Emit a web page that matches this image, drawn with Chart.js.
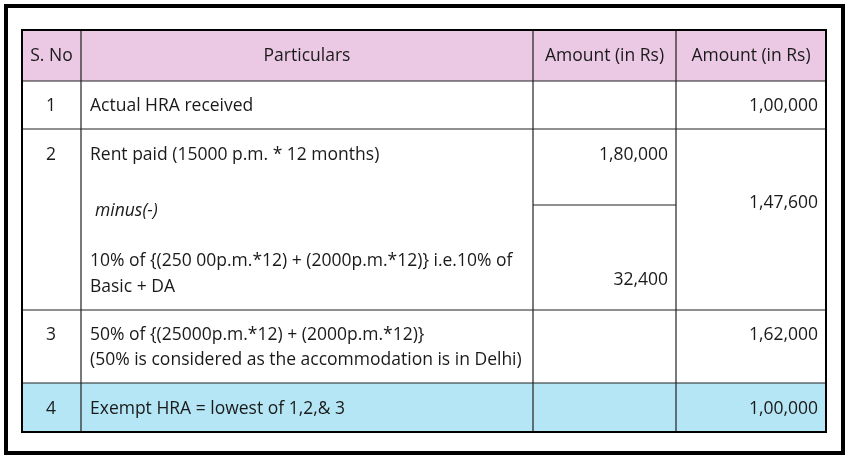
<!DOCTYPE html><html><head><meta charset="utf-8">
<script src="https://cdn.jsdelivr.net/npm/chart.js@4"></script>
<style>html,body{margin:0;padding:0;background:#fff}#w{width:850px;height:460px}</style></head><body><div id="w"><canvas id="c"></canvas></div>
<script>
const colEdges=[22,81,533,676,826];
const rowEdges=[30,81,129,310,383,432];
const headers=["S. No","Particulars","Amount (in Rs)","Amount (in Rs)"];
// text items: [text, x, y, align, italic]
const cellTexts=[
 ["1",51,106,"center"],["Actual HRA received",90,106,"left"],["1,00,000",818,106,"right"],
 ["2",51,155,"center"],["Rent paid (15000 p.m. * 12 months)",90,155,"left"],["1,80,000",668,155,"right"],
 ["minus(-)",95,211,"left",true],["1,47,600",818,203,"right"],
 ["10% of {(250 00p.m.*12) + (2000p.m.*12)} i.e.10% of",90,261,"left"],["Basic + DA",90,287,"left"],["32,400",668,280,"right"],
 ["3",51,335,"center"],["50% of {(25000p.m.*12) + (2000p.m.*12)}",90,335,"left"],["(50% is considered as the accommodation is in Delhi)",90,360,"left"],["1,62,000",818,335,"right"],
 ["4",51,409,"center"],["Exempt HRA = lowest of 1,2,& 3",90,409,"left"],["1,00,000",818,409,"right"]
];
const tablePlugin={id:'tbl',afterDraw(ch){
 const c=ch.ctx,X=v=>ch.scales.x.getPixelForValue(v),Y=v=>ch.scales.y.getPixelForValue(v);
 c.save();
 c.fillStyle='#fff';c.fillRect(X(0),Y(0),X(850)-X(0),Y(460)-Y(0));
 c.lineWidth=4;c.strokeStyle='#000';c.strokeRect(X(6),Y(6),X(843)-X(6),Y(453)-Y(6));
 c.fillStyle='#EBC8E4';c.fillRect(X(colEdges[0]),Y(rowEdges[0]),X(colEdges[4])-X(colEdges[0]),Y(rowEdges[1])-Y(rowEdges[0]));
 c.fillStyle='#B5E6F5';c.fillRect(X(colEdges[0]),Y(rowEdges[4]),X(colEdges[4])-X(colEdges[0]),Y(rowEdges[5])-Y(rowEdges[4]));
 c.strokeStyle='#222';c.lineWidth=1.2;c.beginPath();
 const ln=(a,b,d,e)=>{c.moveTo(X(a),Y(b));c.lineTo(X(d),Y(e));};
 rowEdges.forEach(r=>ln(colEdges[0],r,colEdges[4],r));
 colEdges.forEach(x=>ln(x,rowEdges[0],x,rowEdges[5]));
 ln(colEdges[2],205,colEdges[3],205);
 c.stroke();
 c.strokeStyle='#000';c.lineWidth=2;c.strokeRect(X(colEdges[0]),Y(rowEdges[0]),X(colEdges[4])-X(colEdges[0]),Y(rowEdges[5])-Y(rowEdges[0]));
 c.fillStyle='#1a1a1a';c.textBaseline='middle';
 c.font='17.5px "Open Sans"';c.textAlign='center';
 headers.forEach((h,i)=>c.fillText(h,X((colEdges[i]+colEdges[i+1])/2),Y(56)));
 cellTexts.forEach(t=>{c.font=(t[4]?'italic ':'')+'17.5px "Open Sans"';c.textAlign=t[3];c.fillText(t[0],X(t[1]),Y(t[2]));});
 c.restore();}};
new Chart(document.getElementById('c'),{type:'scatter',data:{datasets:[{data:[]}]},
 options:{responsive:true,maintainAspectRatio:false,animation:false,layout:{padding:0},
 plugins:{legend:{display:false},tooltip:{enabled:false}},
 scales:{x:{type:'linear',min:0,max:850,display:false},y:{type:'linear',min:0,max:460,reverse:true,display:false}}},
 plugins:[tablePlugin]});
</script></body></html>
